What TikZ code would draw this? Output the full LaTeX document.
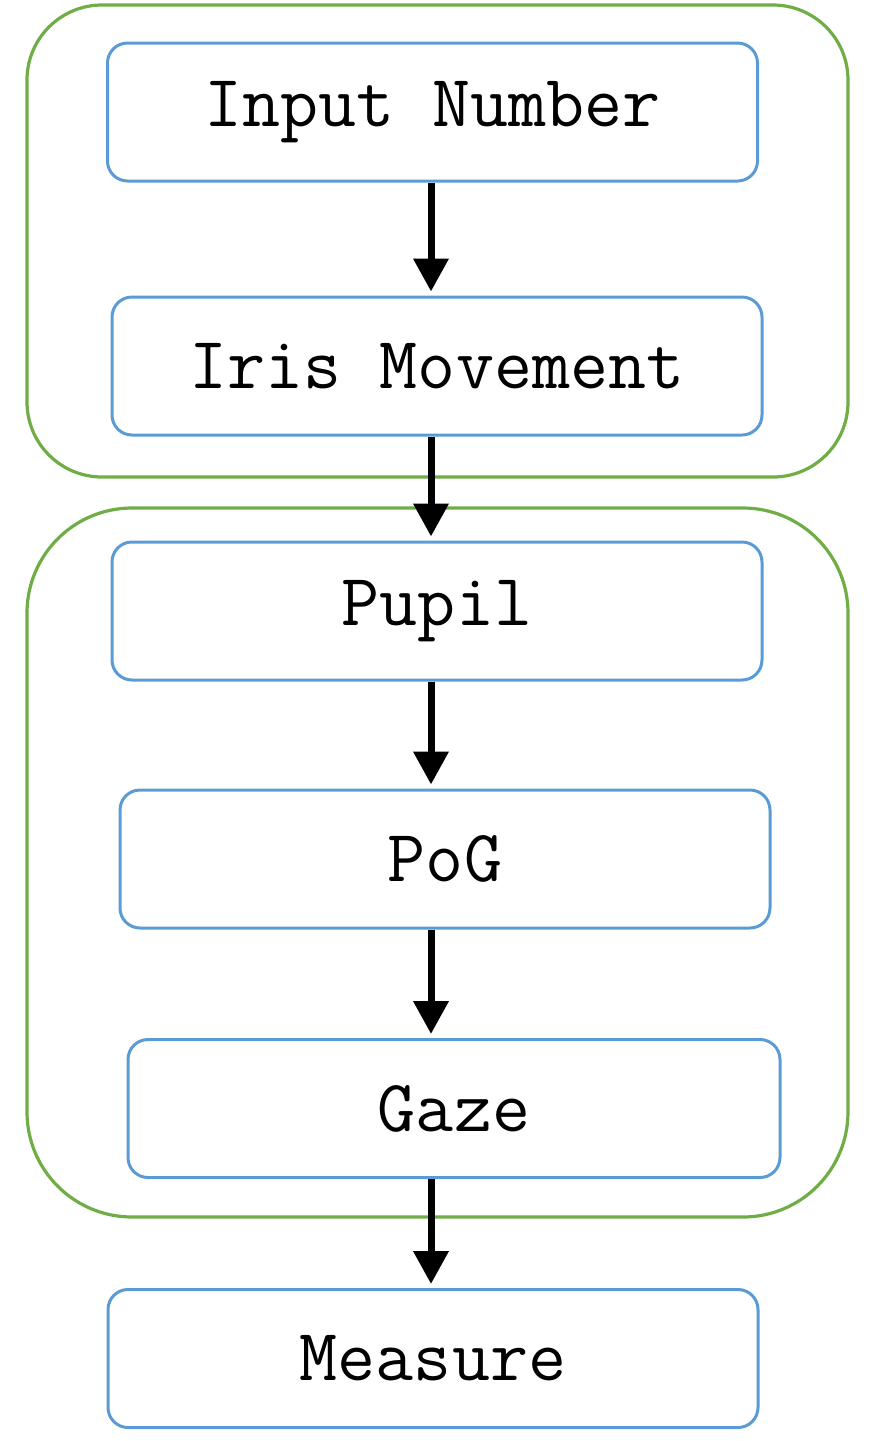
\documentclass[tikz,border=0pt]{standalone}
\usepackage{fontspec}
\usepackage{tikz}
\usetikzlibrary{arrows.meta}
\definecolor{stepblue}{HTML}{5B9BD5}
\definecolor{grpgreen}{HTML}{70AD47}

\begin{document}
\begin{tikzpicture}[x=0.1mm,y=-0.1mm,box/.style={draw=stepblue,line width=0.3mm,rounded corners=2mm,minimum width=65mm,minimum height=13.8mm,inner sep=0pt,font=\ttfamily\fontsize{21pt}{24pt}\selectfont},grp/.style={draw=grpgreen,line width=0.32mm,minimum width=82.1mm,inner sep=0pt},flow/.style={line width=0.7mm,-{Triangle[width=3.4mm,length=3.3mm]},shorten >=0.4mm}]
\useasboundingbox (0,0) rectangle (872,1441);
\node[grp,minimum height=47.2mm,rounded corners=7.5mm] (grpa) at (437.5,241) {};
\node[grp,minimum height=70.9mm,rounded corners=10.5mm] (grpb) at (437.5,862.5) {};
\node[box] (number) at (432.5,112) {Input Number};
\node[box] (iris) at (437,366) {Iris Movement};
\node[box] (pupil) at (437,611) {Pupil};
\node[box] (pog) at (445,859) {PoG};
\node[box,minimum width=65.2mm] (gaze) at (454,1108.5) {Gaze};
\node[box] (measure) at (433,1358.5) {Measure};
\coordinate (spine) at (431,0);
\draw[flow] (number.south -| spine) -- (iris.north -| spine);
\draw[flow] (iris.south -| spine) -- (pupil.north -| spine);
\draw[flow] (pupil.south -| spine) -- (pog.north -| spine);
\draw[flow] (pog.south -| spine) -- (gaze.north -| spine);
\draw[flow] (gaze.south -| spine) -- (measure.north -| spine);
\end{tikzpicture}
\end{document}
